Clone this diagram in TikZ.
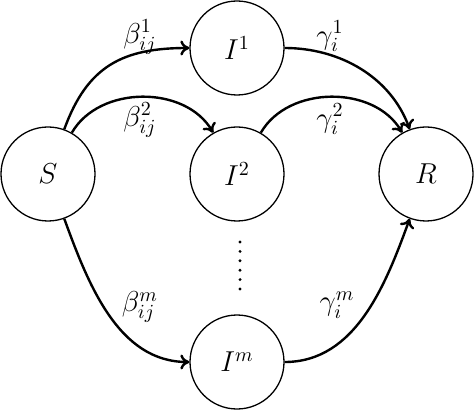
\documentclass[tikz,border=0pt]{standalone}
\usetikzlibrary{arrows.meta}
\begin{document}
\begin{tikzpicture}[x=0.5pt,y=-0.5pt,
  state/.style={draw,circle,line width=0.65pt,minimum size=47pt,inner sep=0pt,font=\fontsize{14.5}{17}\selectfont},
  arr/.style={-{Computer Modern Rightarrow[length=4.5pt,width=7.5pt]},line width=1.2pt},
  lab/.style={inner sep=0pt,font=\fontsize{14.5}{17}\selectfont}]
\useasboundingbox (0,0) rectangle (474,410);
\node[state] (S)  at (48,174)  {$S$};
\node[state] (I1) at (237,48)  {$I^1$};
\node[state] (I2) at (237,174) {$I^2$};
\node[state] (R)  at (426,174) {$R$};
\node[state] (Im) at (237,362) {$I^m$};
\draw[arr] (S) to[out=70,in=180,looseness=1.15] (I1);
\draw[arr] (S) to[out=60,in=120,looseness=1.0] (I2);
\draw[arr] (I1) to[out=0,in=110,looseness=0.95] (R);
\draw[arr] (I2) to[out=60,in=120,looseness=1.0] (R);
\draw[arr] (S) to[out=-70,in=180,looseness=0.95] (Im);
\draw[arr] (Im) to[out=0,in=-110,looseness=0.95] (R);
\node[lab] (b1) at (140,37)  {$\beta^1_{ij}$};
\node[lab] (b2) at (140,120) {$\beta^2_{ij}$};
\node[lab] (g1) at (330,36)  {$\gamma^1_i$};
\node[lab] (g2) at (330,119) {$\gamma^2_i$};
\node[lab] (bm) at (140,307) {$\beta^m_{ij}$};
\node[lab] (gm) at (337,305) {$\gamma^m_i$};
\coordinate (d1) at (240,242);
\coordinate (d2) at (240,289);
\draw[line width=1.6pt,line cap=round,dash pattern=on 0pt off 4.7pt] (d1) -- (d2);
\end{tikzpicture}
\end{document}
